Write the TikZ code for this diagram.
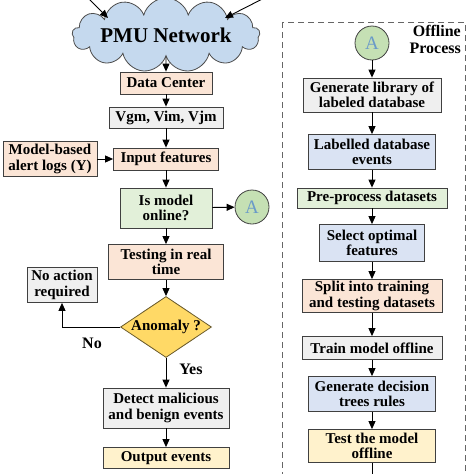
\documentclass[tikz,border=0pt]{standalone}
\usepackage{fontspec}
\setmainfont{Liberation Serif}
\usetikzlibrary{arrows.meta,shapes.geometric,shapes.symbols}
\definecolor{peach}{HTML}{FBE5D6}
\definecolor{lgray}{HTML}{EFEFEF}
\definecolor{lgreen}{HTML}{E2F0D9}
\definecolor{lblue}{HTML}{DAE3F3}
\definecolor{lyellow}{HTML}{FFF2CC}
\definecolor{gold}{HTML}{FFD966}
\definecolor{cloudblue}{HTML}{C5D9EE}
\definecolor{circgreen}{HTML}{C5E0B4}
\definecolor{letterblue}{HTML}{6A9AC8}
\begin{document}
\begin{tikzpicture}[x=1pt,y=-1pt,
    box/.style={draw=black!75,line width=0.8pt,align=center,inner sep=1pt,
      font=\bfseries\fontsize{15}{15.5}\selectfont},
    peachbox/.style={box,fill=peach},
    graybox/.style={box,fill=lgray},
    greenbox/.style={box,fill=lgreen},
    bluebox/.style={box,fill=lblue},
    yellowbox/.style={box,fill=lyellow},
    connector/.style={circle,draw=black!75,line width=0.8pt,fill=circgreen,
      minimum size=34pt,inner sep=0pt,text=letterblue,font=\fontsize{19}{19}\selectfont},
    arr/.style={-{Triangle[length=8pt,width=7pt]},line width=0.9pt},
    lbl/.style={font=\bfseries\fontsize{16}{17}\selectfont}]
    \clip (0,0) rectangle (474,474);
    \useasboundingbox (0,0) rectangle (474,474);

    % online process
    \node[cloud,cloud puffs=13,aspect=4.5,draw=black!70,line width=0.8pt,fill=cloudblue,
      minimum width=178pt,minimum height=40pt,inner sep=0pt,
      font=\bfseries\fontsize{21}{21}\selectfont] (pmu) at (166,35) {PMU Network};
    \node[peachbox,minimum width=92pt,minimum height=22pt] (dc) at (166,83) {Data Center};
    \node[graybox,minimum width=114pt,minimum height=21pt] (vgm) at (166,117.5) {Vgm, Vim, Vjm};
    \node[peachbox,minimum width=94pt,minimum height=35pt] (alert) at (50,159) {Model-based\\alert logs (Y)};
    \node[peachbox,minimum width=105pt,minimum height=22pt] (inp) at (166,159) {Input features};
    \node[greenbox,minimum width=92pt,minimum height=40pt] (online) at (166,208) {Is model\\online?};
    \node[connector] (aon) at (252,207) {A};
    \node[peachbox,minimum width=115pt,minimum height=35pt] (test) at (166,262) {Testing in real\\time};
    \node[graybox,minimum width=70pt,minimum height=35pt] (noact) at (62,285) {No action\\required};
    \node[diamond,draw=black!60!gold,line width=0.8pt,fill=gold,aspect=1.5,inner sep=0pt,
      minimum width=91pt,minimum height=61pt,
      font=\bfseries\fontsize{15}{15.5}\selectfont] (anom) at (166,327) {Anomaly ?};
    \node[graybox,minimum width=126pt,minimum height=40pt] (detect) at (166,408) {Detect malicious\\and benign events};
    \node[yellowbox,minimum width=126pt,minimum height=21pt] (out) at (166,458) {Output events};

    % inputs from above
    \coordinate (in1) at (78,-12);
    \coordinate (in2) at (166,-12);
    \coordinate (in3) at (280,-10);
    \draw[arr] (in1) -- (108,18);
    \draw[arr] (in2) -- (pmu.north);
    \draw[arr] (in3) -- (225,18);

    \draw[arr] (pmu) -- (dc);
    \draw[arr] (dc) -- (vgm);
    \draw[arr] (vgm) -- (inp);
    \draw[arr] (alert) -- (inp);
    \draw[arr] (inp) -- (online);
    \draw[arr] (online) -- (aon);
    \draw[arr] (online) -- (test);
    \draw[arr] (test) -- (anom);
    \draw[arr] (anom.west) -| (noact.south);
    \draw[arr] (anom.south) -- (detect);
    \draw[arr] (detect) -- (out);
    \node[lbl] at (92,343) {No};
    \node[lbl] at (191,369) {Yes};

    % offline process
    \draw[black!60,line width=0.8pt,dash pattern=on 6pt off 4pt] (282,22) rectangle (465,500);
    \node[lbl,align=right,anchor=north east,inner sep=0pt] (offl) at (461,25) {Offline\\Process};
    \node[connector] (aoff) at (372,43) {A};
    \node[graybox,minimum width=138pt,minimum height=34pt] (lib) at (372,95) {Generate library of\\labeled database};
    \node[bluebox,minimum width=127pt,minimum height=35pt] (lab) at (372,152) {Labelled database\\events};
    \node[greenbox,minimum width=150pt,minimum height=20pt] (pre) at (372,198) {Pre-process datasets};
    \node[bluebox,minimum width=105pt,minimum height=37pt] (sel) at (372,243) {Select optimal\\features};
    \node[peachbox,minimum width=140pt,minimum height=33pt] (split) at (372,296) {Split into training\\and testing datasets};
    \node[graybox,minimum width=140pt,minimum height=23pt] (train) at (372,348) {Train model offline};
    \node[bluebox,minimum width=127pt,minimum height=35pt] (gen) at (372,394) {Generate decision\\trees rules};
    \node[yellowbox,minimum width=127pt,minimum height=33pt] (tst) at (372,446) {Test the model\\offline};
    \coordinate (next) at (372,490);

    \draw[arr] (aoff) -- (lib);
    \draw[arr] (lib) -- (lab);
    \draw[arr] (lab) -- (pre);
    \draw[arr] (pre) -- (sel);
    \draw[arr] (sel) -- (split);
    \draw[arr] (split) -- (train);
    \draw[arr] (train) -- (gen);
    \draw[arr] (gen) -- (tst);
    \draw[arr] (tst) -- (next);
\end{tikzpicture}
\end{document}
